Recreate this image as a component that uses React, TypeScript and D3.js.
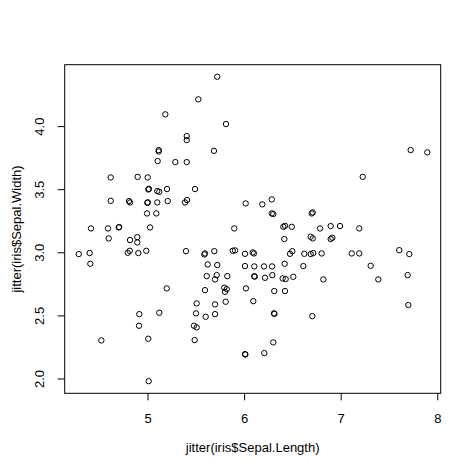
import React from "react";
import * as d3 from "d3";

// jitter(iris$Sepal.Length)
const sepalLength: number[] = [
  5.179, 5.401, 5.401, 5.111, 5.111, 5.1, 5.283, 5.401, 4.614, 4.893,
  4.997, 5.717, 5.521, 5.807, 5.683, 7.719, 7.891, 7.223, 5.003, 5.01,
  5.096, 5.117, 5.197, 5.487, 4.614, 4.803, 4.814, 4.993, 4.998, 5.096,
  5.204, 5.383, 5.404, 4.99, 5.086, 4.41, 4.586, 4.697, 4.702, 5.021,
  4.593, 4.814, 4.889, 4.889, 4.283, 4.396, 4.403, 4.79, 4.811, 4.9,
  4.982, 5.393, 5.194, 6.011, 6.183, 6.281, 6.281, 6.297, 6.695, 6.705,
  5.893, 6.401, 6.418, 6.488, 6.781, 6.411, 6.684, 6.705, 5.59, 5.583,
  5.686, 5.877, 5.901, 6.004, 6.084, 6.097, 6.47, 6.494, 6.618, 6.684,
  6.711, 5.618, 5.717, 6.004, 6.1, 6.201, 6.284, 6.415, 6.608, 5.608,
  5.694, 5.711, 5.821, 6.1, 6.105, 6.211, 6.287, 6.394, 6.425, 6.504,
  6.891, 6.988, 7.187, 6.891, 6.908, 6.798, 7.109, 7.187, 7.601, 7.705,
  7.305, 6.815, 7.384, 7.688, 4.91, 5.117, 4.907, 4.517, 5.003, 5.007,
  5.59, 5.79, 5.815, 5.797, 6.014, 6.307, 6.418, 5.504, 5.694, 5.804,
  6.09, 5.497, 5.597, 5.694, 6.304, 6.309, 6.701, 5.476, 5.504, 5.483,
  6.297, 6.004, 6.008, 6.204, 7.695,
];

// jitter(iris$Sepal.Width)
const sepalWidth: number[] = [
  4.097, 3.925, 3.893, 3.814, 3.803, 3.727, 3.719, 3.719, 3.597, 3.602,
  3.597, 4.395, 4.216, 4.02, 3.808, 3.814, 3.796, 3.602, 3.502, 3.507,
  3.489, 3.483, 3.505, 3.505, 3.412, 3.41, 3.399, 3.396, 3.4, 3.399,
  3.41, 3.399, 3.418, 3.312, 3.312, 3.193, 3.193, 3.201, 3.204, 3.201,
  3.114, 3.101, 3.124, 3.082, 2.99, 2.998, 2.913, 3.0, 3.016, 2.998,
  3.016, 3.013, 2.718, 3.391, 3.384, 3.423, 3.312, 3.307, 3.312, 3.32,
  3.193, 3.206, 3.214, 3.206, 3.193, 3.109, 3.127, 3.114, 2.995, 2.987,
  3.013, 3.016, 3.019, 2.992, 3.003, 2.995, 2.992, 3.013, 2.992, 2.99,
  2.998, 2.908, 2.903, 2.895, 2.892, 2.892, 2.892, 2.913, 2.895, 2.815,
  2.789, 2.823, 2.815, 2.815, 2.811, 2.802, 2.823, 2.797, 2.792, 2.81,
  3.212, 3.212, 3.193, 3.109, 3.119, 2.995, 2.995, 2.995, 3.021, 2.99,
  2.897, 2.789, 2.789, 2.823, 2.514, 2.525, 2.422, 2.306, 2.319, 1.983,
  2.704, 2.723, 2.712, 2.691, 2.718, 2.697, 2.697, 2.599, 2.591, 2.612,
  2.617, 2.52, 2.493, 2.514, 2.52, 2.516, 2.498, 2.422, 2.409, 2.308,
  2.29, 2.197, 2.194, 2.205, 2.586,
];

const xTicks: number[] = [5, 6, 7, 8];
const yTicks: number[] = [2.0, 2.5, 3.0, 3.5, 4.0];
const xLabel = "jitter(iris$Sepal.Length)";
const yLabel = "jitter(iris$Sepal.Width)";

const W = 474;
const H = 474;
const FONT = "'Liberation Sans', Arial, Helvetica, sans-serif";

export default function App() {
  const x = d3.scaleLinear().domain([5, 8]).range([148, 437.8]);
  const y = d3.scaleLinear().domain([2, 4]).range([379, 126.6]);
  const left = 64.7, right = 440.7, top = 64.7, bottom = 393.3;
  const fs = 13;
  return (
    <svg
      width={W}
      height={H}
      style={{ position: "absolute", left: 0, top: 0, background: "#fff" }}
      fontFamily={FONT}
    >
      <rect x={0} y={0} width={W} height={H} fill="#fff" />
      <rect
        x={left}
        y={top}
        width={right - left}
        height={bottom - top}
        fill="none"
        stroke="#000"
        strokeWidth={1}
      />
      {sepalLength.map((v, i) => (
        <circle
          key={i}
          cx={x(v)}
          cy={y(sepalWidth[i])}
          r={2.7}
          fill="none"
          stroke="#000"
          strokeWidth={1}
        />
      ))}
      {xTicks.map((t) => (
        <g key={"x" + t}>
          <line x1={x(t)} x2={x(t)} y1={bottom} y2={bottom + 7} stroke="#000" />
          <text x={x(t)} y={423} fontSize={fs} textAnchor="middle">
            {d3.format("d")(t)}
          </text>
        </g>
      ))}
      {yTicks.map((t) => (
        <g key={"y" + t}>
          <line x1={left - 7} x2={left} y1={y(t)} y2={y(t)} stroke="#000" />
          <text
            transform={`translate(${44},${y(t)}) rotate(-90)`}
            fontSize={fs}
            textAnchor="middle"
          >
            {d3.format(".1f")(t)}
          </text>
        </g>
      ))}
      <text x={(left + right) / 2} y={452} fontSize={fs} textAnchor="middle">
        {xLabel}
      </text>
      <text
        transform={`translate(${21},${(top + bottom) / 2}) rotate(-90)`}
        fontSize={fs}
        textAnchor="middle"
      >
        {yLabel}
      </text>
    </svg>
  );
}
